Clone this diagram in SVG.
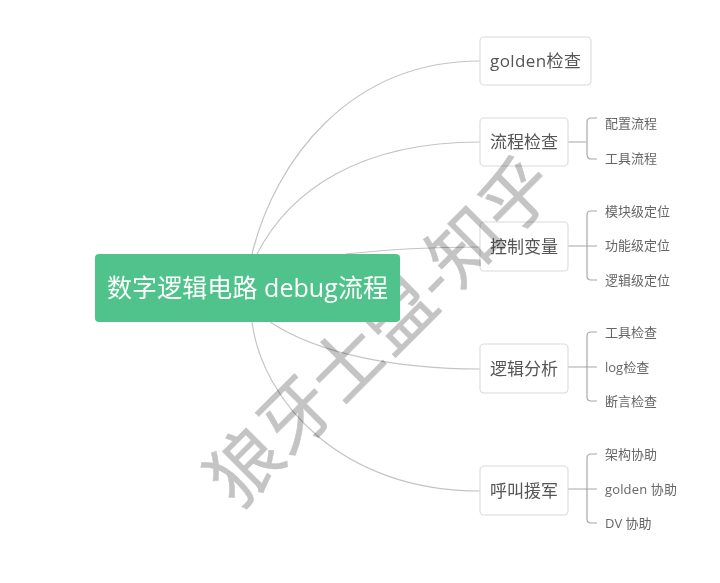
<svg xmlns="http://www.w3.org/2000/svg" width="720" height="583" viewBox="0 0 720 583">
<style>
text{font-family:"Open Sans","Noto Sans CJK SC",sans-serif}
.c{fill:none;stroke:#c4c4c4;stroke-width:1.2}
.b{fill:none;stroke:#a8a8a8;stroke-width:1.2}
.n{fill:#fff;stroke:#dadada;stroke-width:1.1}
.t{font-size:17px;fill:#555}
.s{font-size:13px;fill:#666}
.w{font-size:72px;fill:#c4c4c4;stroke:#c4c4c4;stroke-width:.5;mix-blend-mode:multiply}
</style>
<rect width="720" height="583" fill="#fff"/>
<g id="connectors">
<path class="c" d="M252 254C275 160 350 61 480 61"/>
<path class="c" d="M257 254C290 190 360 142 480 142"/>
<path class="c" d="M345 254C390 249 430 247 480 247"/>
<path class="c" d="M270 322C320 355 400 369 480 369"/>
<path class="c" d="M252 322C262 400 340 491 480 491"/>
<path class="b" d="M568 142H586M597 118H591Q587 118 587 122V154Q587 159 591 159H597"/>
<path class="b" d="M568 246H597M597 211H591Q587 211 587 215V276Q587 280 591 280H597"/>
<path class="b" d="M568 367H597M597 332H591Q587 332 587 336V397Q587 401 591 401H597"/>
<path class="b" d="M568 489H597M597 454H591Q587 454 587 458V519Q587 523 591 523H597"/>
</g>
<g id="n1"><rect class="n" x="480" y="37" width="111" height="48" rx="4"/><text class="t" x="490" y="67" textLength="91">golden检查</text></g>
<g id="n2"><rect class="n" x="480" y="118" width="88" height="48" rx="4"/><text class="t" x="490" y="148">流程检查</text></g>
<g id="n3"><rect class="n" x="480" y="222" width="88" height="49" rx="4"/><text class="t" x="490" y="253">控制变量</text></g>
<g id="n4"><rect class="n" x="480" y="344" width="88" height="49" rx="4"/><text class="t" x="490" y="375">逻辑分析</text></g>
<g id="n5"><rect class="n" x="480" y="466" width="88" height="49" rx="4"/><text class="t" x="490" y="497">呼叫援军</text></g>
<g id="l1"><text class="s" x="605" y="128">配置流程</text></g>
<g id="l2"><text class="s" x="605" y="163">工具流程</text></g>
<g id="l3"><text class="s" x="605" y="216">模块级定位</text></g>
<g id="l4"><text class="s" x="605" y="250">功能级定位</text></g>
<g id="l5"><text class="s" x="605" y="285">逻辑级定位</text></g>
<g id="l6"><text class="s" x="605" y="337">工具检查</text></g>
<g id="l7"><text class="s" x="605" y="372">log检查</text></g>
<g id="l8"><text class="s" x="605" y="406">断言检查</text></g>
<g id="l9"><text class="s" x="605" y="459">架构协助</text></g>
<g id="l10"><text class="s" x="605" y="494" textLength="72">golden 协助</text></g>
<g id="l11"><text class="s" x="605" y="528">DV 协助</text></g>
<text class="w" transform="translate(238 510) rotate(-45)">狼牙士盟-知乎</text>
<g id="root"><rect x="95" y="254" width="305" height="68" rx="4" fill="#50c28b"/><text x="107" y="297" font-size="25" fill="#fff" textLength="281">数字逻辑电路 debug流程</text></g>
</svg>
